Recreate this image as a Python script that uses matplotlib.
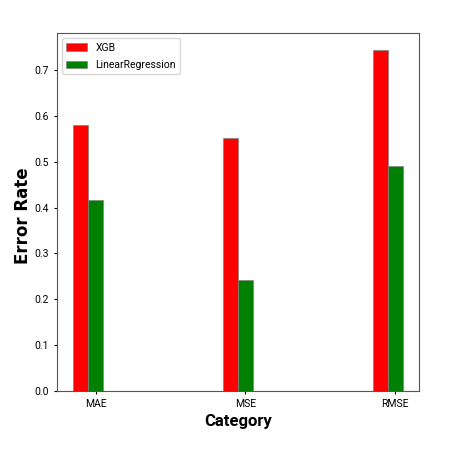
import matplotlib
matplotlib.use('Agg')
import matplotlib.pyplot as plt
import numpy as np

# error values per metric
categories = ['MAE', 'MSE', 'RMSE']
xgb = [0.580, 0.552, 0.743]
linear_regression = [0.417, 0.241, 0.491]

narrow = 'Roboto'

barWidth = 0.1
r1 = np.arange(len(categories))
r2 = [x + barWidth for x in r1]

fig = plt.figure(figsize=(4.74, 4.74), dpi=100)
ax = fig.add_axes([0.120, 0.175, 0.764, 0.755])

ax.bar(r1, xgb, width=barWidth, color='red', edgecolor='grey', linewidth=0.5, label='XGB')
ax.bar(r2, linear_regression, width=barWidth, color='green', edgecolor='grey', linewidth=0.5, label='LinearRegression')

ax.set_xticks(r2)
ax.set_xticklabels(categories)
ax.tick_params(labelsize=7.5, length=2)
for t in ax.get_xticklabels() + ax.get_yticklabels():
    t.set_family(narrow)

ax.set_xlabel('Category', fontweight='bold', fontsize=12, family=narrow)
ax.set_ylabel('Error Rate', fontweight='bold', fontsize=12)
ax.yaxis.set_label_coords(-0.068, 0.49)

for s in ax.spines.values():
    s.set_color('#555555')

ax.legend(loc='upper left', prop={'family': narrow, 'size': 7.5}, labelspacing=0.7)

fig.savefig('out.png', dpi=100)
